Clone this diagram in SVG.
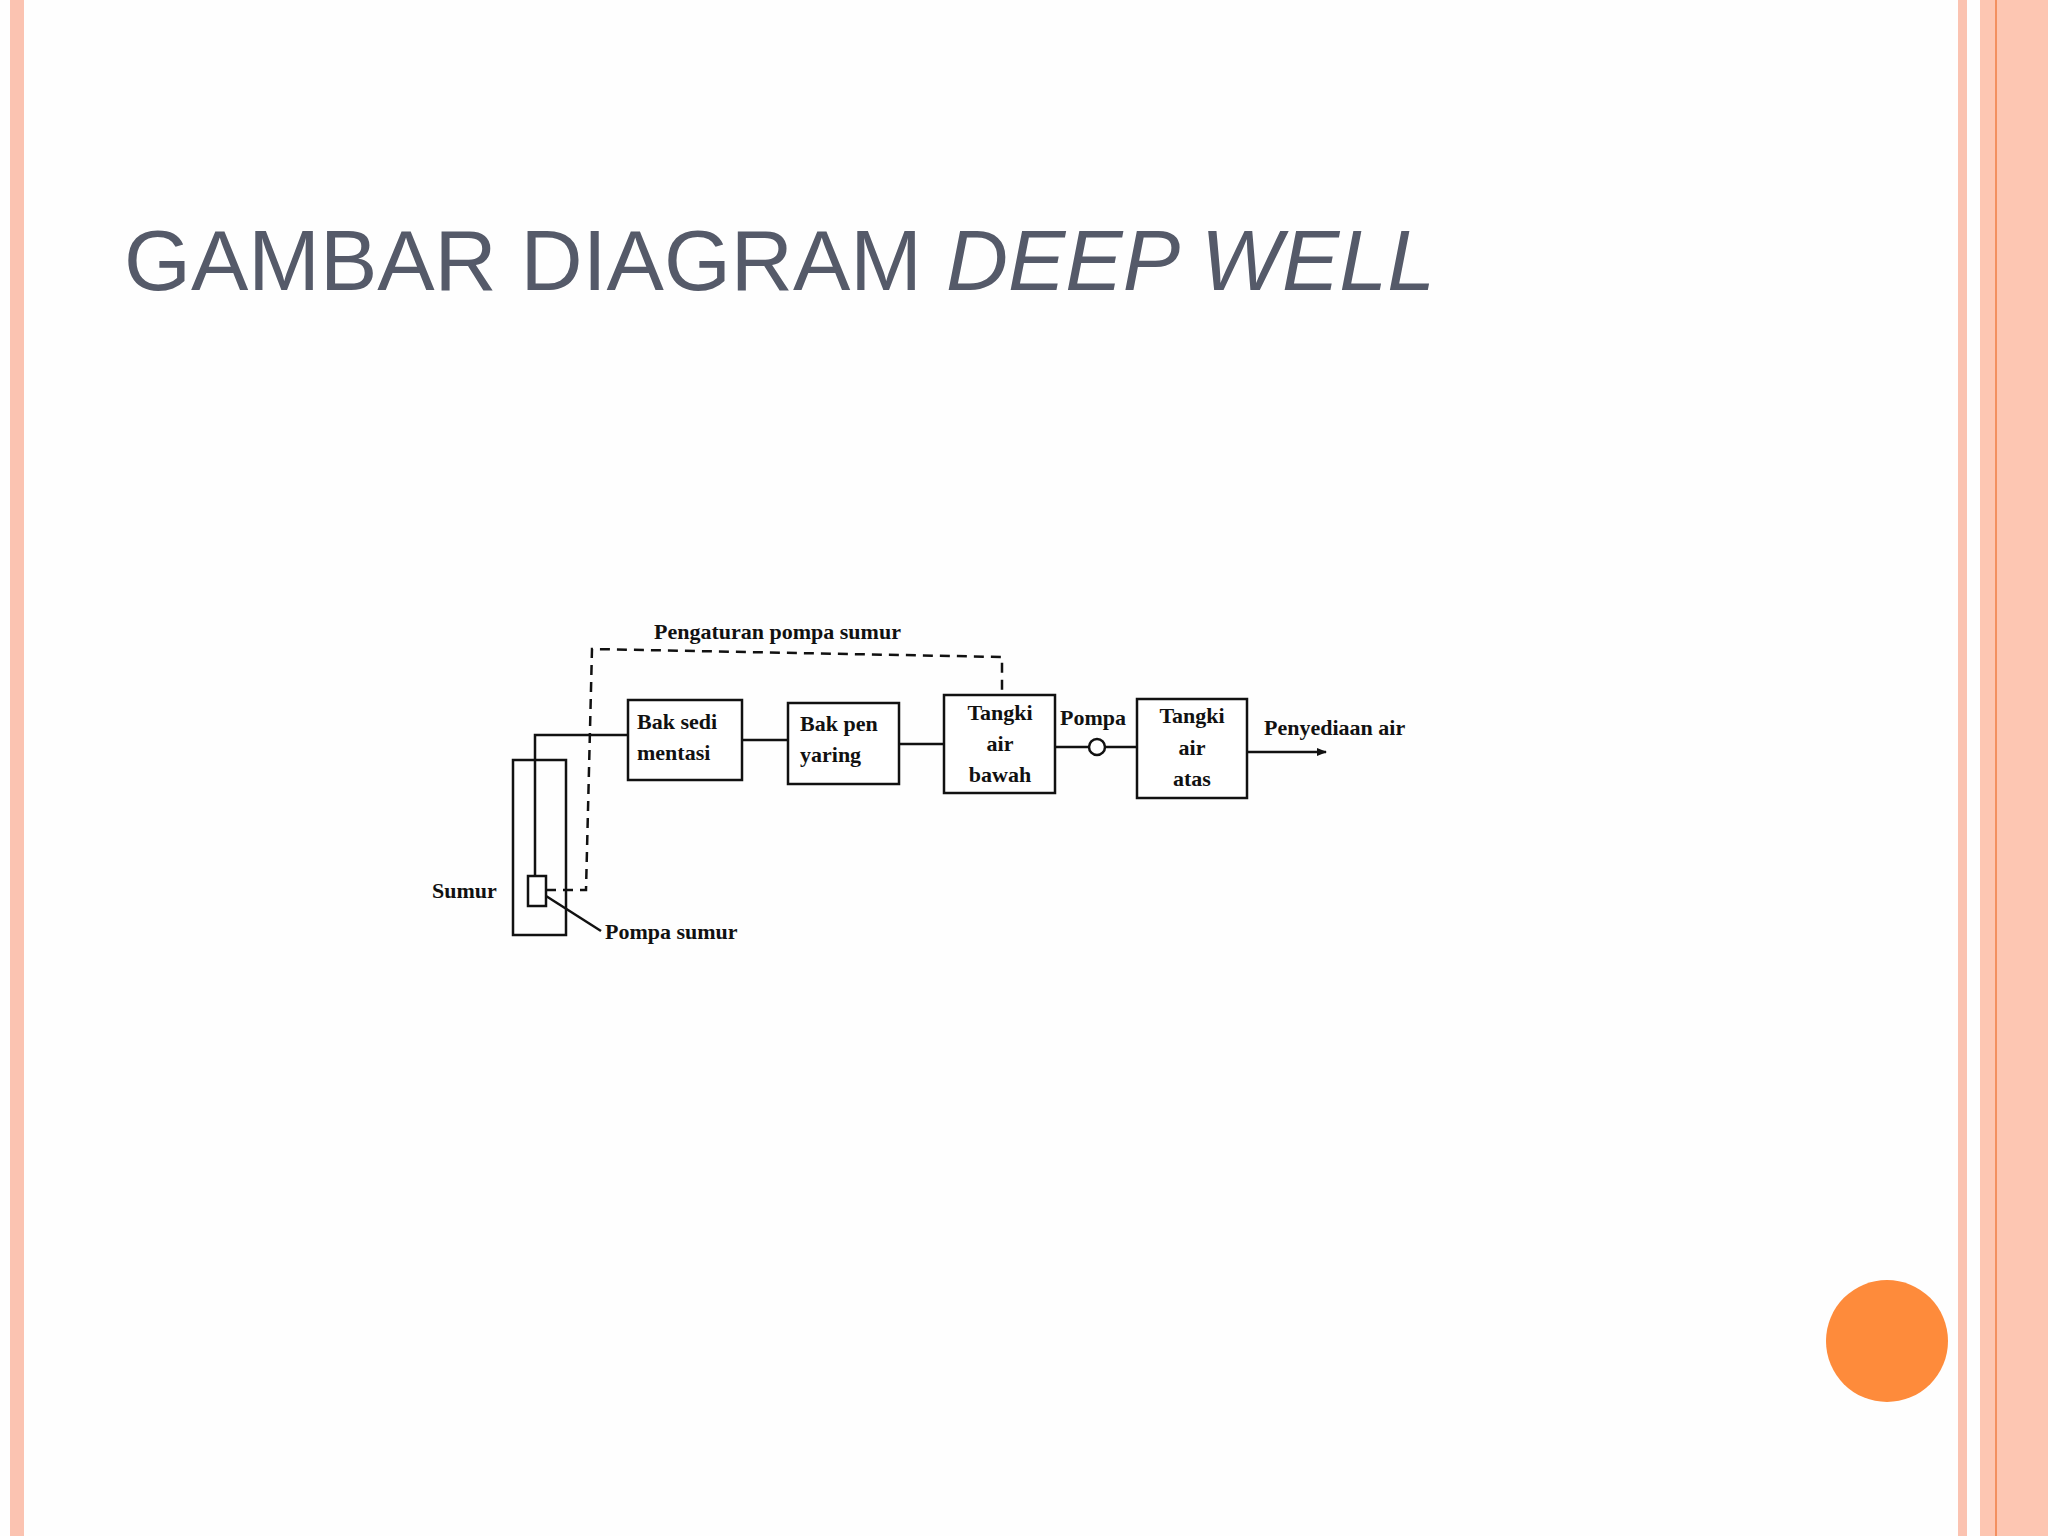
<svg xmlns="http://www.w3.org/2000/svg" width="2048" height="1536" viewBox="0 0 2048 1536">
<style>
.t{font-family:"Liberation Serif",serif;font-size:22px;font-weight:bold;fill:#111}
.c{text-anchor:middle}
.b{fill:#fff;stroke:#111;stroke-width:2.5}
.l{fill:none;stroke:#111;stroke-width:2.5}
</style>
<defs><marker id="ah" markerWidth="10" markerHeight="8" refX="9" refY="4" orient="auto" markerUnits="userSpaceOnUse"><path d="M0,0 L10,4 L0,8 Z" fill="#111"/></marker></defs>
<rect width="2048" height="1536" fill="#fefefe"/>
<rect x="10" y="0" width="14" height="1536" fill="#fbc3b1"/>
<rect x="1958" y="0" width="9" height="1536" fill="#fbc3b1"/>
<rect x="1980" y="0" width="68" height="1536" fill="#fdc6b2"/>
<rect x="1995" y="0" width="2" height="1536" fill="#f39060"/>
<text x="124" y="290" font-family="Liberation Sans,Arial,sans-serif" font-size="86" fill="#555a69">GAMBAR DIAGRAM <tspan font-style="italic">DEEP WELL</tspan></text>
<circle cx="1887" cy="1341" r="61" fill="#fe8b3b"/>
<g id="connectors">
<path class="l" d="M535,877 V735 H628"/>
<path class="l" d="M742,740 H788"/>
<path class="l" d="M899,744 H944"/>
<path class="l" d="M1055,747 H1089 M1105,747 H1137"/>
<path class="l" d="M1247,752 H1326" marker-end="url(#ah)"/>
<path class="l" stroke-dasharray="10,7" d="M546,890 H586 L592,649 L1002,657 V695"/>
<path class="l" stroke-width="1.8" d="M546,896 L601,931"/>
</g>
<g id="sumur"><rect class="b" x="513" y="760" width="53" height="175" fill="none" style="fill:none"/><text class="t" x="432" y="898">Sumur</text></g>
<g id="pompa-sumur"><rect class="b" x="528" y="876" width="18" height="30"/><text class="t" x="605" y="939">Pompa sumur</text></g>
<g id="bak-sedi"><rect class="b" x="628" y="700" width="114" height="80"/><text class="t" x="637" y="729">Bak sedi</text><text class="t" x="637" y="760">mentasi</text></g>
<g id="bak-pen"><rect class="b" x="788" y="703" width="111" height="81"/><text class="t" x="800" y="731">Bak pen</text><text class="t" x="800" y="762">yaring</text></g>
<g id="tangki-bawah"><rect class="b" x="944" y="695" width="111" height="98"/><text class="t c" x="1000" y="720">Tangki</text><text class="t c" x="1000" y="751">air</text><text class="t c" x="1000" y="782">bawah</text></g>
<g id="pompa"><circle class="b" cx="1097" cy="747" r="8"/><text class="t" x="1060" y="725" font-weight="normal">Pompa</text></g>
<g id="tangki-atas"><rect class="b" x="1137" y="699" width="110" height="99"/><text class="t c" x="1192" y="723">Tangki</text><text class="t c" x="1192" y="755">air</text><text class="t c" x="1192" y="786">atas</text></g>
<g id="labels"><text class="t" x="654" y="639">Pengaturan pompa sumur</text><text class="t" x="1264" y="735">Penyediaan air</text></g>
</svg>
